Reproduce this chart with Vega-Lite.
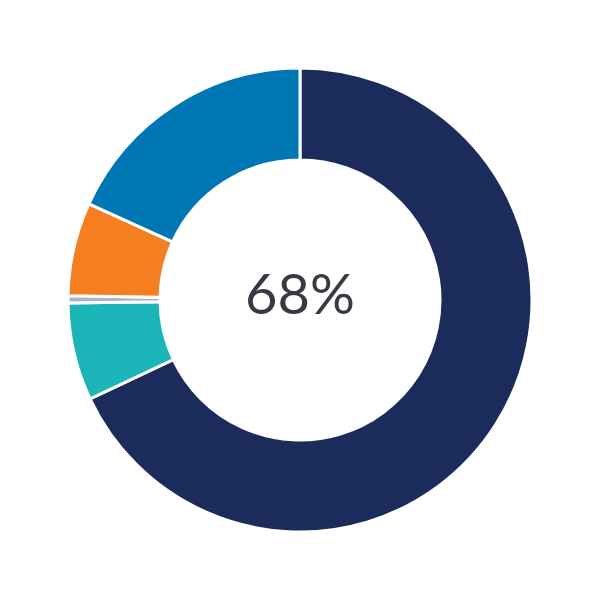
{
  "$schema": "https://vega.github.io/schema/vega-lite/v6.json",
  "width": 600,
  "height": 600,
  "autosize": {"type": "fit", "contains": "padding"},
  "padding": 0,
  "background": "white",
  "view": {"stroke": null},
  "data": {
    "values": [
      {"segment": "A", "order": 1, "share": 68.0},
      {"segment": "B", "order": 2, "share": 6.8},
      {"segment": "C", "order": 3, "share": 0.5},
      {"segment": "D", "order": 4, "share": 6.5},
      {"segment": "E", "order": 5, "share": 18.2}
    ]
  },
  "layer": [
    {
      "mark": {"type": "arc", "radius": 232, "radius2": 140, "stroke": "white", "strokeWidth": 3},
      "encoding": {
        "theta": {"field": "share", "type": "quantitative", "stack": true},
        "order": {"field": "order", "type": "quantitative"},
        "color": {
          "field": "segment",
          "type": "nominal",
          "scale": {
            "domain": ["A", "B", "C", "D", "E"],
            "range": ["#1b2b5b", "#1bb4b8", "#aeb1c6", "#f47e20", "#0077b5"]
          },
          "legend": null
        }
      }
    },
    {
      "data": {"values": [{"label": "68%"}]},
      "mark": {"type": "text", "fontSize": 56, "font": "Lato", "fontWeight": 400, "color": "#363b43", "align": "center", "baseline": "middle", "dy": -3},
      "encoding": {"text": {"field": "label"}}
    }
  ]
}
